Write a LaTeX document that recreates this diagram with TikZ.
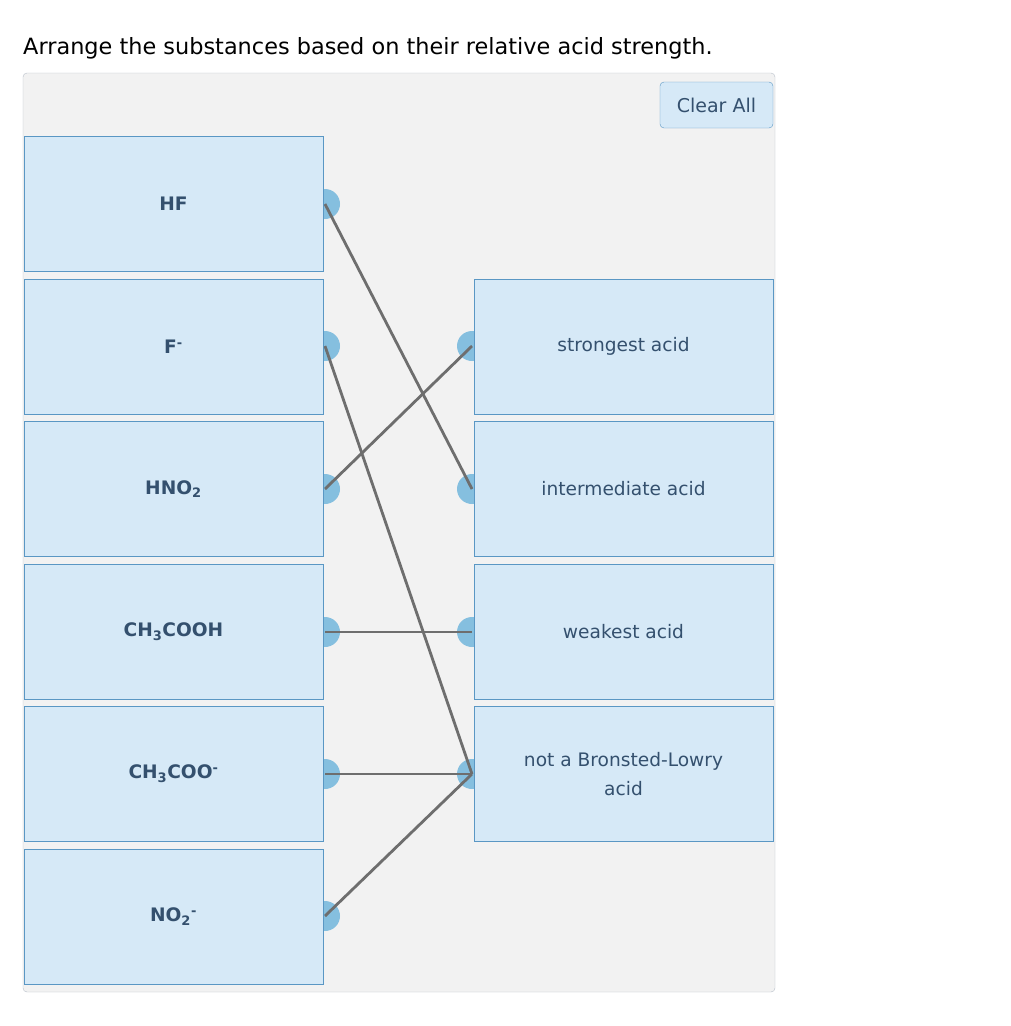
\documentclass[tikz,border=0pt]{standalone}
\usepackage{fontspec}
\setmainfont{DejaVu Sans}
\definecolor{boxfill}{HTML}{D6E9F7}
\definecolor{boxline}{HTML}{5A97C4}
\definecolor{txt}{HTML}{34506E}
\definecolor{dot}{HTML}{85BFDF}
\definecolor{panel}{HTML}{F2F2F2}
\definecolor{panelline}{HTML}{B8C0CA}
\definecolor{wire}{HTML}{6E6E6E}
\tikzset{
 item/.style={draw=boxline,fill=boxfill,line width=1pt,minimum width=299pt,minimum height=135pt,inner sep=0pt,text=txt,font=\fontsize{18.6}{29}\selectfont,align=center},
 itemb/.style={item,font=\fontsize{18.6}{29}\selectfont\bfseries},
 pin/.style={circle,fill=dot,minimum size=30pt,inner sep=0pt},
 wire/.style={draw=wire,line width=2.8pt}
}
\begin{document}
\begin{tikzpicture}[x=1pt,y=-1pt]
\useasboundingbox (0,0) rectangle (1010,1026);
\fill[white] (0,0) rectangle (1010,1026);
\node[anchor=base west,text=black,font=\fontsize{22.4}{26}\selectfont,inner sep=0pt] (title) at (23,54) {Arrange the substances based on their relative acid strength.};
\draw[panelline,fill=panel,rounded corners=4pt] (23,73) rectangle (775,992);
\node[draw=boxline,fill=boxfill,rounded corners=4pt,minimum width=113pt,minimum height=46pt,inner sep=0pt,text=txt,font=\fontsize{19}{22}\selectfont] (clear) at (716.5,105) {Clear All};
% pins
\foreach \n/\y in {1/204,2/346,3/489,4/632,5/774,6/916}{\node[pin] (L\n) at (325,\y) {};}
\foreach \n/\y in {1/346,2/489,3/632,4/774}{\node[pin] (R\n) at (472,\y) {};}
% wires
\draw[wire] (L1.center) -- (R2.center);
\draw[wire] (L2.center) -- (R4.center);
\draw[wire] (L3.center) -- (R1.center);
\draw[wire] (L4.center) -- (R3.center);
\draw[wire] (L5.center) -- (R4.center);
\draw[wire] (L6.center) -- (R4.center);
% left boxes
\node[itemb] (hf) at (173.5,204) {HF};
\node[itemb] (f) at (173.5,346.5) {F\textsuperscript{-}};
\node[itemb] (hno2) at (173.5,489) {HNO\textsubscript{2}};
\node[itemb] (ch3cooh) at (173.5,631.5) {CH\textsubscript{3}COOH};
\node[itemb] (ch3coo) at (173.5,774) {CH\textsubscript{3}COO\textsuperscript{-}};
\node[itemb] (no2) at (173.5,916.5) {NO\textsubscript{2}\textsuperscript{-}};
% right boxes
\node[item] (s) at (623.5,346.5) {strongest acid};
\node[item] (i) at (623.5,489) {intermediate acid};
\node[item] (w) at (623.5,631.5) {weakest acid};
\node[item] (n) at (623.5,774) {not a Bronsted-Lowry\\acid};
\end{tikzpicture}
\end{document}
